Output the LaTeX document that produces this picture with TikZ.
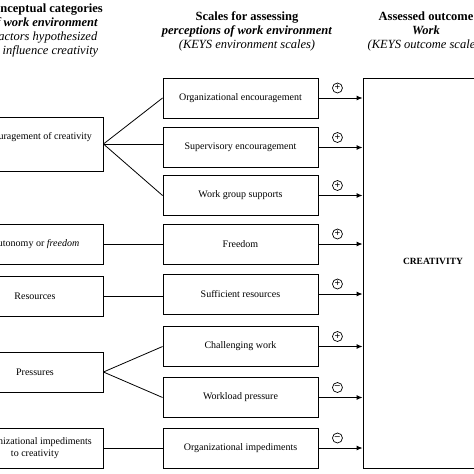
\documentclass[tikz,border=0pt]{standalone}
\usepackage{fontspec}
\setmainfont{Liberation Serif}
\usetikzlibrary{arrows.meta}

\begin{document}
\begin{tikzpicture}[x=1pt,y=-1pt,
  catnode/.style={draw, line width=0.9pt, minimum width=136pt, minimum height=40pt, inner sep=1pt, align=center, font=\fontsize{10}{12}\selectfont},
  scalenode/.style={draw, line width=0.9pt, minimum width=155pt, minimum height=40pt, inner sep=1pt, align=center, font=\fontsize{10}{12}\selectfont},
  signnode/.style={circle, draw, line width=0.7pt, inner sep=0pt, minimum size=10pt, font=\fontsize{10}{10}\selectfont\bfseries},
  headnode/.style={align=center, font=\fontsize{12.5}{14}\selectfont}]
    \clip (0,0) rectangle (474,474);

    % headings
    \node[headnode] (h1) at (44,30.5) {\textbf{Conceptual categories}\\ \textbf{\textit{of work environment}}\\ \textit{Factors hypothesized}\\ \textit{to influence creativity}};
    \node[headnode] (h2) at (247,31) {\textbf{Scales for assessing}\\ \textbf{\textit{perceptions of work environment}}\\ \textit{(KEYS environment scales)}};
    \node[headnode] (h3) at (426,31) {\textbf{Assessed outcome}\\ \textbf{\textit{Work}}\\ \textit{(KEYS outcome scales)}};

    % conceptual categories
    \node[catnode, minimum height=54pt] (c1) at (35,144) {Encouragement of creativity\\ \strut};
    \node[catnode] (c2) at (35,244) {Autonomy or \textit{freedom}};
    \node[catnode] (c3) at (35,296.5) {Resources};
    \node[catnode] (c4) at (35,372) {Pressures};
    \node[catnode] (c5) at (35,448) {Organizational impediments\\ to creativity};

    % KEYS environment scales
    \node[scalenode] (s1) at (240.5,98) {Organizational encouragement};
    \node[scalenode] (s2) at (240.5,147.5) {Supervisory encouragement};
    \node[scalenode] (s3) at (240.5,195.5) {Work group supports};
    \node[scalenode] (s4) at (240.5,244) {Freedom};
    \node[scalenode] (s5) at (240.5,294) {Sufficient resources};
    \node[scalenode] (s6) at (240.5,346.5) {Challenging work};
    \node[scalenode] (s7) at (240.5,397.5) {Workload pressure};
    \node[scalenode] (s8) at (240.5,448) {Organizational impediments};

    % outcome
    \node[draw, line width=0.9pt, minimum width=140pt, minimum height=390pt] (out) at (433,273) {};
    \node[font=\fontsize{9.5}{11}\selectfont\bfseries] (outlbl) at (433,261) {CREATIVITY};

    \foreach \from\to in {c1/s1,c1/s3,c2/s4,c4/s6,c4/s7,c5/s8}
        \draw[line width=0.8pt] (\from.east) -- (\to.west);
    \foreach \from\to in {c1/s2,c3/s5}
        \draw[line width=0.8pt] (\from.east) -- (\from.east -| \to.west);

    \foreach \i/\sg in {1/+,2/+,3/+,4/+,5/+,6/+,7/–,8/–}{
        \draw[line width=0.9pt, -{Latex[length=6pt,width=5pt]}] (s\i.east) -- (s\i.east -| out.west);
        \node[signnode] (p\i) at ([xshift=19pt,yshift=10pt]s\i.east) {\sg};
    }
\end{tikzpicture}
\end{document}
